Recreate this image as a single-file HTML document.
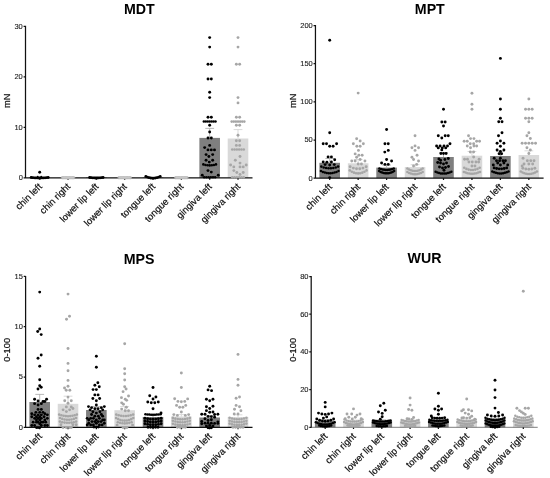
<!DOCTYPE html>
<html lang="en"><head><meta charset="utf-8"><title>MDT MPT MPS WUR</title>
<style>
html,body{margin:0;padding:0;background:#fff;}
body{width:550px;height:478px;overflow:hidden;}
svg{display:block;}
svg text{font-family:"Liberation Sans",Arial,Helvetica,sans-serif;fill:#111;}
.ttl{font-weight:bold;font-size:14.2px;text-anchor:middle;fill:#000;}
.tk{font-size:7.5px;text-anchor:end;fill:#222;stroke:#222;stroke-width:0.12;}
.yl{font-size:9.3px;text-anchor:middle;fill:#111;stroke:#111;stroke-width:0.25;}
.xl{font-size:9.5px;text-anchor:end;fill:#111;stroke:#111;stroke-width:0.2;}
.ax{stroke:#111111;stroke-width:1.25;fill:none;}
.dk{fill:#000000;}.lt{fill:#a6a6a6;}
.bd{fill:#7f7f7f;}.bl{fill:#d9d9d9;}
.ed{stroke:#a6a6a6;stroke-width:0.8;fill:none;}.el{stroke:#cfcfcf;stroke-width:0.8;fill:none;}
</style></head><body>
<svg width="550" height="478" viewBox="0 0 550 478">
<rect x="0" y="0" width="550" height="478" fill="#ffffff"/>
<g>
<text class="ttl" x="139.4" y="13.9">MDT</text>
<text class="yl" transform="translate(10.3 100.7) rotate(-90)">mN</text>
<rect class="bd" x="29.4" y="177.3" width="20.6" height="0.6"/>
<rect class="bl" x="57.73" y="177.5" width="20.6" height="0.4"/>
<rect class="bd" x="86.06" y="177.3" width="20.6" height="0.6"/>
<rect class="bl" x="114.39" y="177.5" width="20.6" height="0.4"/>
<rect class="bd" x="142.72" y="177.3" width="20.6" height="0.6"/>
<rect class="bl" x="171.05" y="177.5" width="20.6" height="0.4"/>
<rect class="bd" x="199.38" y="137.9" width="20.6" height="40"/>
<path class="ed" d="M209.68 137.9V128.4M205.28 128.4H214.08"/>
<rect class="bl" x="227.71" y="138.5" width="20.6" height="39.4"/>
<path class="el" d="M238.01 138.5V129.6M233.61 129.6H242.41"/>
<path class="ax" d="M25.5 25.85V177.9H252.5M25.5 177.9H23.6M25.5 127.45H23.6M25.5 76.9H23.6M25.5 26.35H23.6M39.7 177.9V179.7M68.03 177.9V179.7M96.36 177.9V179.7M124.69 177.9V179.7M153.02 177.9V179.7M181.35 177.9V179.7M209.68 177.9V179.7M238.01 177.9V179.7"/>
<g class="dk">
<circle cx="39.7" cy="172.3" r="1.45"/><circle cx="37.7" cy="176.7" r="0.9"/><circle cx="41.2" cy="176.7" r="0.9"/><circle cx="31.18" cy="177.5" r="1.4"/><circle cx="32.73" cy="177.67" r="1.4"/><circle cx="34.28" cy="177.8" r="1.4"/><circle cx="35.83" cy="177.9" r="1.4"/><circle cx="37.38" cy="177.96" r="1.4"/><circle cx="38.93" cy="178" r="1.4"/><circle cx="40.48" cy="178" r="1.4"/><circle cx="42.03" cy="177.96" r="1.4"/><circle cx="43.58" cy="177.9" r="1.4"/><circle cx="45.12" cy="177.8" r="1.4"/><circle cx="46.68" cy="177.67" r="1.4"/><circle cx="48.23" cy="177.5" r="1.4"/>
</g>
<g class="lt">
<circle cx="62.23" cy="177.8" r="1.5"/><circle cx="63.68" cy="177.8" r="1.5"/><circle cx="65.13" cy="177.8" r="1.5"/><circle cx="66.58" cy="177.8" r="1.5"/><circle cx="68.03" cy="177.8" r="1.5"/><circle cx="69.48" cy="177.8" r="1.5"/><circle cx="70.93" cy="177.8" r="1.5"/><circle cx="72.38" cy="177.8" r="1.5"/><circle cx="73.83" cy="177.8" r="1.5"/>
</g>
<g class="dk">
<circle cx="89.61" cy="177.5" r="1.4"/><circle cx="91.11" cy="177.7" r="1.4"/><circle cx="92.61" cy="177.85" r="1.4"/><circle cx="94.11" cy="177.94" r="1.4"/><circle cx="95.61" cy="177.99" r="1.4"/><circle cx="97.11" cy="177.99" r="1.4"/><circle cx="98.61" cy="177.94" r="1.4"/><circle cx="100.11" cy="177.85" r="1.4"/><circle cx="101.61" cy="177.7" r="1.4"/><circle cx="103.11" cy="177.5" r="1.4"/>
</g>
<g class="lt">
<circle cx="118.89" cy="177.8" r="1.5"/><circle cx="120.34" cy="177.8" r="1.5"/><circle cx="121.79" cy="177.8" r="1.5"/><circle cx="123.24" cy="177.8" r="1.5"/><circle cx="124.69" cy="177.8" r="1.5"/><circle cx="126.14" cy="177.8" r="1.5"/><circle cx="127.59" cy="177.8" r="1.5"/><circle cx="129.04" cy="177.8" r="1.5"/><circle cx="130.49" cy="177.8" r="1.5"/>
</g>
<g class="dk">
<circle cx="145.82" cy="176.4" r="1.4"/><circle cx="147.42" cy="177.11" r="1.4"/><circle cx="149.02" cy="177.64" r="1.4"/><circle cx="150.62" cy="178" r="1.4"/><circle cx="152.22" cy="178.18" r="1.4"/><circle cx="153.82" cy="178.18" r="1.4"/><circle cx="155.42" cy="178" r="1.4"/><circle cx="157.02" cy="177.64" r="1.4"/><circle cx="158.62" cy="177.11" r="1.4"/><circle cx="160.22" cy="176.4" r="1.4"/>
</g>
<g class="lt">
<circle cx="175.55" cy="177.8" r="1.5"/><circle cx="177" cy="177.8" r="1.5"/><circle cx="178.45" cy="177.8" r="1.5"/><circle cx="179.9" cy="177.8" r="1.5"/><circle cx="181.35" cy="177.8" r="1.5"/><circle cx="182.8" cy="177.8" r="1.5"/><circle cx="184.25" cy="177.8" r="1.5"/><circle cx="185.7" cy="177.8" r="1.5"/><circle cx="187.15" cy="177.8" r="1.5"/>
</g>
<g class="dk">
<circle cx="209.68" cy="37.6" r="1.45"/><circle cx="209.68" cy="47.1" r="1.45"/><circle cx="208.03" cy="64.2" r="1.45"/><circle cx="211.33" cy="64.2" r="1.45"/><circle cx="208.03" cy="79" r="1.45"/><circle cx="211.33" cy="79" r="1.45"/><circle cx="209.68" cy="92.3" r="1.45"/><circle cx="209.68" cy="97.6" r="1.45"/><circle cx="208.03" cy="117.3" r="1.45"/><circle cx="211.33" cy="117.3" r="1.45"/><circle cx="203.83" cy="121.6" r="1.25"/><circle cx="205.78" cy="121.6" r="1.25"/><circle cx="207.73" cy="121.6" r="1.25"/><circle cx="209.68" cy="121.6" r="1.25"/><circle cx="211.63" cy="121.6" r="1.25"/><circle cx="213.58" cy="121.6" r="1.25"/><circle cx="215.53" cy="121.6" r="1.25"/><circle cx="209.68" cy="125.2" r="1.45"/><circle cx="209.68" cy="132" r="1.45"/><circle cx="208.03" cy="138" r="1.45"/><circle cx="211.33" cy="138" r="1.45"/><circle cx="209.68" cy="145.4" r="1.45"/><circle cx="204.68" cy="147.6" r="1.45"/><circle cx="206.08" cy="154.6" r="1.45"/><circle cx="212.68" cy="154.6" r="1.45"/><circle cx="208.88" cy="156.5" r="1.45"/><circle cx="206.08" cy="160.3" r="1.45"/><circle cx="212.68" cy="160.3" r="1.45"/><circle cx="209.28" cy="162.1" r="1.45"/><circle cx="203.38" cy="164.4" r="1.3"/><circle cx="205.48" cy="164.96" r="1.3"/><circle cx="207.58" cy="165.29" r="1.3"/><circle cx="209.68" cy="165.4" r="1.3"/><circle cx="211.78" cy="165.29" r="1.3"/><circle cx="213.88" cy="164.96" r="1.3"/><circle cx="215.98" cy="164.4" r="1.3"/><circle cx="207.98" cy="170.6" r="1.45"/><circle cx="211.28" cy="172.1" r="1.45"/><circle cx="202.28" cy="175.3" r="1.45"/><circle cx="218.28" cy="175.3" r="1.45"/><circle cx="204.18" cy="177.2" r="1.3"/><circle cx="206.38" cy="177.2" r="1.3"/><circle cx="208.58" cy="177.2" r="1.3"/><circle cx="210.78" cy="177.2" r="1.3"/><circle cx="212.98" cy="177.2" r="1.3"/><circle cx="215.18" cy="177.2" r="1.3"/><circle cx="207.98" cy="149.9" r="1.45"/><circle cx="211.28" cy="149.9" r="1.45"/><circle cx="214.48" cy="149.9" r="1.45"/>
</g>
<g class="lt">
<circle cx="238.01" cy="37.6" r="1.45"/><circle cx="238.01" cy="47.1" r="1.45"/><circle cx="236.36" cy="64.2" r="1.45"/><circle cx="239.66" cy="64.2" r="1.45"/><circle cx="238.01" cy="97.6" r="1.45"/><circle cx="238.01" cy="102.9" r="1.45"/><circle cx="236.36" cy="117.3" r="1.45"/><circle cx="239.66" cy="117.3" r="1.45"/><circle cx="231.71" cy="121.6" r="1.3"/><circle cx="233.81" cy="121.6" r="1.3"/><circle cx="235.91" cy="121.6" r="1.3"/><circle cx="238.01" cy="121.6" r="1.3"/><circle cx="240.11" cy="121.6" r="1.3"/><circle cx="242.21" cy="121.6" r="1.3"/><circle cx="244.31" cy="121.6" r="1.3"/><circle cx="236.36" cy="125.2" r="1.45"/><circle cx="239.66" cy="125.2" r="1.45"/><circle cx="238.01" cy="135.3" r="1.45"/><circle cx="236.36" cy="140.7" r="1.45"/><circle cx="239.66" cy="140.7" r="1.45"/><circle cx="236.36" cy="145.4" r="1.45"/><circle cx="239.66" cy="145.4" r="1.45"/><circle cx="232.26" cy="149.5" r="1.3"/><circle cx="234.56" cy="149.5" r="1.3"/><circle cx="236.86" cy="149.5" r="1.3"/><circle cx="239.16" cy="149.5" r="1.3"/><circle cx="241.46" cy="149.5" r="1.3"/><circle cx="243.76" cy="149.5" r="1.3"/><circle cx="240.01" cy="156.5" r="1.45"/><circle cx="235.31" cy="160.3" r="1.45"/><circle cx="240.01" cy="163.1" r="1.45"/><circle cx="230.61" cy="165" r="1.45"/><circle cx="246.21" cy="165" r="1.45"/><circle cx="233.81" cy="166.9" r="1.45"/><circle cx="240.01" cy="166.9" r="1.45"/><circle cx="243.21" cy="166.9" r="1.45"/><circle cx="233.81" cy="170.6" r="1.45"/><circle cx="236.81" cy="172.5" r="1.45"/><circle cx="243.21" cy="172.5" r="1.45"/><circle cx="240.01" cy="174.4" r="1.45"/><circle cx="232.26" cy="177.2" r="1.3"/><circle cx="234.56" cy="177.2" r="1.3"/><circle cx="236.86" cy="177.2" r="1.3"/><circle cx="239.16" cy="177.2" r="1.3"/><circle cx="241.46" cy="177.2" r="1.3"/><circle cx="243.76" cy="177.2" r="1.3"/>
</g>
<rect x="61.83" y="177.2" width="12.4" height="1.2" rx="0.6" fill="#d2d2d2"/>
<rect x="118.49" y="177.2" width="12.4" height="1.2" rx="0.6" fill="#d2d2d2"/>
<rect x="175.15" y="177.2" width="12.4" height="1.2" rx="0.6" fill="#d2d2d2"/>
<text class="tk" x="22.8" y="180.35">0</text>
<text class="tk" x="22.8" y="129.9">10</text>
<text class="tk" x="22.8" y="79.35">20</text>
<text class="tk" x="22.8" y="28.8">30</text>
<text class="xl" transform="translate(42.5 187.2) rotate(-45)">chin left</text>
<text class="xl" transform="translate(70.83 187.2) rotate(-45)">chin right</text>
<text class="xl" transform="translate(99.16 187.2) rotate(-45)">lower lip left</text>
<text class="xl" transform="translate(127.49 187.2) rotate(-45)">lower lip right</text>
<text class="xl" transform="translate(155.82 187.2) rotate(-45)">tongue left</text>
<text class="xl" transform="translate(184.15 187.2) rotate(-45)">tongue right</text>
<text class="xl" transform="translate(212.48 187.2) rotate(-45)">gingiva left</text>
<text class="xl" transform="translate(240.81 187.2) rotate(-45)">gingiva right</text>
</g>
<g>
<text class="ttl" x="429.8" y="13.9">MPT</text>
<text class="yl" transform="translate(296.3 100.7) rotate(-90)">mN</text>
<rect class="bd" x="319.4" y="162.8" width="20.6" height="15.4"/>
<path class="ed" d="M329.7 162.8V158.5M325.3 158.5H334.1"/>
<rect class="bl" x="347.85" y="163.3" width="20.6" height="14.9"/>
<path class="el" d="M358.15 163.3V159.5M353.75 159.5H362.55"/>
<rect class="bd" x="376.3" y="167.6" width="20.6" height="10.6"/>
<path class="ed" d="M386.6 167.6V165M382.2 165H391"/>
<rect class="bl" x="404.75" y="167.1" width="20.6" height="11.1"/>
<path class="el" d="M415.05 167.1V164.7M410.65 164.7H419.45"/>
<rect class="bd" x="433.2" y="157" width="20.6" height="21.2"/>
<path class="ed" d="M443.5 157V152.6M439.1 152.6H447.9"/>
<rect class="bl" x="461.65" y="155.7" width="20.6" height="22.5"/>
<path class="el" d="M471.95 155.7V151.5M467.55 151.5H476.35"/>
<rect class="bd" x="490.1" y="156" width="20.6" height="22.2"/>
<path class="ed" d="M500.4 156V151.2M496 151.2H504.8"/>
<rect class="bl" x="518.55" y="155" width="20.6" height="23.2"/>
<path class="el" d="M528.85 155V150.8M524.45 150.8H533.25"/>
<path class="ax" d="M315.45 25V178.2H543.6M315.45 178.2H313.55M315.45 140H313.55M315.45 101.8H313.55M315.45 63.7H313.55M315.45 25.5H313.55M329.7 178.2V180M358.15 178.2V180M386.6 178.2V180M415.05 178.2V180M443.5 178.2V180M471.95 178.2V180M500.4 178.2V180M528.85 178.2V180"/>
<g class="dk">
<circle cx="329.7" cy="40.2" r="1.45"/><circle cx="329.7" cy="132.7" r="1.45"/><circle cx="323.2" cy="143.7" r="1.45"/><circle cx="326.5" cy="143.7" r="1.45"/><circle cx="336.6" cy="143.7" r="1.45"/><circle cx="329.7" cy="146.3" r="1.45"/><circle cx="333.1" cy="146.3" r="1.45"/><circle cx="328.1" cy="156.9" r="1.45"/><circle cx="331.4" cy="156.9" r="1.45"/><circle cx="334.7" cy="159.8" r="1.45"/><circle cx="323.2" cy="162" r="1.45"/><circle cx="326.9" cy="162.3" r="1.45"/><circle cx="331.4" cy="162" r="1.45"/><circle cx="325.1" cy="164.6" r="1.45"/><circle cx="329.7" cy="165" r="1.45"/><circle cx="334.3" cy="164.6" r="1.45"/><circle cx="321.3" cy="166.6" r="1.3"/><circle cx="323.7" cy="167.43" r="1.3"/><circle cx="326.1" cy="167.99" r="1.3"/><circle cx="328.5" cy="168.27" r="1.3"/><circle cx="330.9" cy="168.27" r="1.3"/><circle cx="333.3" cy="167.99" r="1.3"/><circle cx="335.7" cy="167.43" r="1.3"/><circle cx="338.1" cy="166.6" r="1.3"/><circle cx="320.93" cy="171.1" r="1.25"/><circle cx="322.88" cy="171.97" r="1.25"/><circle cx="324.82" cy="172.62" r="1.25"/><circle cx="326.77" cy="173.06" r="1.25"/><circle cx="328.72" cy="173.27" r="1.25"/><circle cx="330.68" cy="173.27" r="1.25"/><circle cx="332.62" cy="173.06" r="1.25"/><circle cx="334.57" cy="172.62" r="1.25"/><circle cx="336.52" cy="171.97" r="1.25"/><circle cx="338.47" cy="171.1" r="1.25"/><circle cx="329.7" cy="177.6" r="1.45"/>
</g>
<g class="lt">
<circle cx="358.15" cy="93.1" r="1.45"/><circle cx="356.65" cy="138.8" r="1.45"/><circle cx="360.15" cy="141" r="1.45"/><circle cx="353.35" cy="143.7" r="1.45"/><circle cx="363.35" cy="143.7" r="1.45"/><circle cx="356.85" cy="146.3" r="1.45"/><circle cx="360.15" cy="146.3" r="1.45"/><circle cx="358.45" cy="150.4" r="1.45"/><circle cx="355.15" cy="153.9" r="1.45"/><circle cx="358.85" cy="155.2" r="1.45"/><circle cx="362.15" cy="155.2" r="1.45"/><circle cx="356.65" cy="157.2" r="1.45"/><circle cx="360.15" cy="159.5" r="1.45"/><circle cx="351.75" cy="161" r="1.45"/><circle cx="355.15" cy="161" r="1.45"/><circle cx="364.95" cy="161" r="1.45"/><circle cx="358.15" cy="164" r="1.45"/><circle cx="361.45" cy="164" r="1.45"/><circle cx="350.15" cy="166.8" r="1.45"/><circle cx="353.35" cy="168.08" r="1.45"/><circle cx="356.55" cy="168.72" r="1.45"/><circle cx="359.75" cy="168.72" r="1.45"/><circle cx="362.95" cy="168.08" r="1.45"/><circle cx="366.15" cy="166.8" r="1.45"/><circle cx="349.75" cy="170.4" r="1.3"/><circle cx="351.85" cy="171.71" r="1.3"/><circle cx="353.95" cy="172.65" r="1.3"/><circle cx="356.05" cy="173.21" r="1.3"/><circle cx="358.15" cy="173.4" r="1.3"/><circle cx="360.25" cy="173.21" r="1.3"/><circle cx="362.35" cy="172.65" r="1.3"/><circle cx="364.45" cy="171.71" r="1.3"/><circle cx="366.55" cy="170.4" r="1.3"/>
</g>
<g class="dk">
<circle cx="386.6" cy="129.5" r="1.45"/><circle cx="384.95" cy="143.7" r="1.45"/><circle cx="388.25" cy="143.7" r="1.45"/><circle cx="388.3" cy="150.4" r="1.45"/><circle cx="384.8" cy="152.1" r="1.45"/><circle cx="386.6" cy="159.5" r="1.45"/><circle cx="391.6" cy="161" r="1.45"/><circle cx="381.6" cy="163" r="1.45"/><circle cx="384.95" cy="164.4" r="1.45"/><circle cx="388.25" cy="164.4" r="1.45"/><circle cx="379.4" cy="168.5" r="1.25"/><circle cx="381" cy="169.09" r="1.25"/><circle cx="382.6" cy="169.54" r="1.25"/><circle cx="384.2" cy="169.83" r="1.25"/><circle cx="385.8" cy="169.98" r="1.25"/><circle cx="387.4" cy="169.98" r="1.25"/><circle cx="389" cy="169.83" r="1.25"/><circle cx="390.6" cy="169.54" r="1.25"/><circle cx="392.2" cy="169.09" r="1.25"/><circle cx="393.8" cy="168.5" r="1.25"/><circle cx="379.1" cy="171.1" r="1.25"/><circle cx="380.6" cy="171.89" r="1.25"/><circle cx="382.1" cy="172.51" r="1.25"/><circle cx="383.6" cy="172.95" r="1.25"/><circle cx="385.1" cy="173.21" r="1.25"/><circle cx="386.6" cy="173.3" r="1.25"/><circle cx="388.1" cy="173.21" r="1.25"/><circle cx="389.6" cy="172.95" r="1.25"/><circle cx="391.1" cy="172.51" r="1.25"/><circle cx="392.6" cy="171.89" r="1.25"/><circle cx="394.1" cy="171.1" r="1.25"/>
</g>
<g class="lt">
<circle cx="415.05" cy="135.8" r="1.45"/><circle cx="415.05" cy="145.9" r="1.45"/><circle cx="411.95" cy="147.8" r="1.45"/><circle cx="418.55" cy="147.8" r="1.45"/><circle cx="415.05" cy="150.4" r="1.45"/><circle cx="417.05" cy="155.2" r="1.45"/><circle cx="411.95" cy="157.2" r="1.45"/><circle cx="413.55" cy="159.5" r="1.45"/><circle cx="418.55" cy="161" r="1.45"/><circle cx="416.65" cy="164.4" r="1.45"/><circle cx="413.55" cy="166" r="1.45"/><circle cx="407.4" cy="168.6" r="1.25"/><circle cx="409.1" cy="169.55" r="1.25"/><circle cx="410.8" cy="170.26" r="1.25"/><circle cx="412.5" cy="170.73" r="1.25"/><circle cx="414.2" cy="170.97" r="1.25"/><circle cx="415.9" cy="170.97" r="1.25"/><circle cx="417.6" cy="170.73" r="1.25"/><circle cx="419.3" cy="170.26" r="1.25"/><circle cx="421" cy="169.55" r="1.25"/><circle cx="422.7" cy="168.6" r="1.25"/><circle cx="407.4" cy="172.1" r="1.25"/><circle cx="409.1" cy="172.97" r="1.25"/><circle cx="410.8" cy="173.62" r="1.25"/><circle cx="412.5" cy="174.06" r="1.25"/><circle cx="414.2" cy="174.27" r="1.25"/><circle cx="415.9" cy="174.27" r="1.25"/><circle cx="417.6" cy="174.06" r="1.25"/><circle cx="419.3" cy="173.62" r="1.25"/><circle cx="421" cy="172.97" r="1.25"/><circle cx="422.7" cy="172.1" r="1.25"/>
</g>
<g class="dk">
<circle cx="443.5" cy="109.2" r="1.45"/><circle cx="441.85" cy="122" r="1.45"/><circle cx="445.15" cy="122" r="1.45"/><circle cx="443.5" cy="126" r="1.45"/><circle cx="438.3" cy="135.7" r="1.45"/><circle cx="445.2" cy="135.7" r="1.45"/><circle cx="448.3" cy="135.7" r="1.45"/><circle cx="441.8" cy="138" r="1.45"/><circle cx="450" cy="143.7" r="1.45"/><circle cx="436.6" cy="146" r="1.45"/><circle cx="440.1" cy="146" r="1.45"/><circle cx="444" cy="146" r="1.45"/><circle cx="447.5" cy="146" r="1.45"/><circle cx="438.3" cy="147.9" r="1.45"/><circle cx="442.3" cy="147.9" r="1.45"/><circle cx="445.7" cy="147.9" r="1.45"/><circle cx="441.8" cy="149.9" r="1.45"/><circle cx="440.9" cy="153.5" r="1.45"/><circle cx="443.5" cy="153.5" r="1.45"/><circle cx="446.1" cy="153.5" r="1.45"/><circle cx="438.9" cy="159" r="1.45"/><circle cx="440.6" cy="160.2" r="1.45"/><circle cx="444.9" cy="159.5" r="1.45"/><circle cx="448.3" cy="158.5" r="1.45"/><circle cx="440.5" cy="163" r="1.45"/><circle cx="443.5" cy="164" r="1.45"/><circle cx="446.5" cy="163" r="1.45"/><circle cx="437.7" cy="162.5" r="1.45"/><circle cx="439.5" cy="167" r="1.45"/><circle cx="442.5" cy="168" r="1.45"/><circle cx="445.5" cy="167.5" r="1.45"/><circle cx="448.5" cy="166.5" r="1.45"/><circle cx="444" cy="170.3" r="1.45"/><circle cx="435.62" cy="171.8" r="1.25"/><circle cx="437.38" cy="172.51" r="1.25"/><circle cx="439.12" cy="173.04" r="1.25"/><circle cx="440.88" cy="173.4" r="1.25"/><circle cx="442.62" cy="173.58" r="1.25"/><circle cx="444.38" cy="173.58" r="1.25"/><circle cx="446.12" cy="173.4" r="1.25"/><circle cx="447.88" cy="173.04" r="1.25"/><circle cx="449.62" cy="172.51" r="1.25"/><circle cx="451.38" cy="171.8" r="1.25"/>
</g>
<g class="lt">
<circle cx="471.95" cy="93.2" r="1.45"/><circle cx="471.95" cy="104.2" r="1.45"/><circle cx="471.95" cy="109.2" r="1.45"/><circle cx="468.55" cy="135.7" r="1.45"/><circle cx="470.55" cy="138.6" r="1.45"/><circle cx="473.95" cy="138.6" r="1.45"/><circle cx="464.15" cy="141.2" r="1.45"/><circle cx="467.25" cy="141.2" r="1.45"/><circle cx="476.65" cy="141.2" r="1.45"/><circle cx="479.55" cy="141.2" r="1.45"/><circle cx="470.25" cy="143.7" r="1.45"/><circle cx="473.65" cy="143.7" r="1.45"/><circle cx="467.25" cy="146" r="1.45"/><circle cx="473.95" cy="146" r="1.45"/><circle cx="476.65" cy="146" r="1.45"/><circle cx="470.55" cy="147.7" r="1.45"/><circle cx="470.3" cy="152" r="1.45"/><circle cx="473.6" cy="152" r="1.45"/><circle cx="473.65" cy="157" r="1.45"/><circle cx="464.55" cy="159.2" r="1.45"/><circle cx="467.45" cy="159.2" r="1.45"/><circle cx="479.15" cy="159.2" r="1.45"/><circle cx="468.95" cy="162" r="1.45"/><circle cx="472.25" cy="162" r="1.45"/><circle cx="475.95" cy="162" r="1.45"/><circle cx="478.65" cy="162" r="1.45"/><circle cx="471.95" cy="166" r="1.45"/><circle cx="474.95" cy="166" r="1.45"/><circle cx="464.25" cy="167.8" r="1.3"/><circle cx="466.45" cy="168.88" r="1.3"/><circle cx="468.65" cy="169.6" r="1.3"/><circle cx="470.85" cy="169.96" r="1.3"/><circle cx="473.05" cy="169.96" r="1.3"/><circle cx="475.25" cy="169.6" r="1.3"/><circle cx="477.45" cy="168.88" r="1.3"/><circle cx="479.65" cy="167.8" r="1.3"/><circle cx="463.85" cy="171.9" r="1.25"/><circle cx="465.65" cy="172.61" r="1.25"/><circle cx="467.45" cy="173.14" r="1.25"/><circle cx="469.25" cy="173.5" r="1.25"/><circle cx="471.05" cy="173.68" r="1.25"/><circle cx="472.85" cy="173.68" r="1.25"/><circle cx="474.65" cy="173.5" r="1.25"/><circle cx="476.45" cy="173.14" r="1.25"/><circle cx="478.25" cy="172.61" r="1.25"/><circle cx="480.05" cy="171.9" r="1.25"/>
</g>
<g class="dk">
<circle cx="500.4" cy="58.4" r="1.45"/><circle cx="500.4" cy="99" r="1.45"/><circle cx="500.4" cy="109.2" r="1.45"/><circle cx="500.4" cy="118.3" r="1.45"/><circle cx="498.75" cy="121.7" r="1.45"/><circle cx="502.05" cy="121.7" r="1.45"/><circle cx="502" cy="132.7" r="1.45"/><circle cx="498.5" cy="135.8" r="1.45"/><circle cx="500.4" cy="141" r="1.45"/><circle cx="497.1" cy="143.3" r="1.45"/><circle cx="503.9" cy="143.3" r="1.45"/><circle cx="500.4" cy="146.3" r="1.45"/><circle cx="497.1" cy="150" r="1.45"/><circle cx="503.9" cy="150" r="1.45"/><circle cx="500.4" cy="151.5" r="1.45"/><circle cx="499.1" cy="153.7" r="1.45"/><circle cx="501.6" cy="153.7" r="1.45"/><circle cx="494.2" cy="158.3" r="1.45"/><circle cx="500.4" cy="158.3" r="1.45"/><circle cx="496.5" cy="160.8" r="1.45"/><circle cx="499.6" cy="160.8" r="1.45"/><circle cx="502.9" cy="160.8" r="1.45"/><circle cx="505.4" cy="160.8" r="1.45"/><circle cx="497.7" cy="163" r="1.45"/><circle cx="503.9" cy="163" r="1.45"/><circle cx="493.3" cy="165" r="1.45"/><circle cx="500.4" cy="165" r="1.45"/><circle cx="507.7" cy="165" r="1.45"/><circle cx="494.15" cy="167.9" r="1.45"/><circle cx="496.65" cy="168.54" r="1.45"/><circle cx="499.15" cy="168.86" r="1.45"/><circle cx="501.65" cy="168.86" r="1.45"/><circle cx="504.15" cy="168.54" r="1.45"/><circle cx="506.65" cy="167.9" r="1.45"/><circle cx="492.3" cy="171.4" r="1.25"/><circle cx="494.1" cy="172.19" r="1.25"/><circle cx="495.9" cy="172.78" r="1.25"/><circle cx="497.7" cy="173.18" r="1.25"/><circle cx="499.5" cy="173.38" r="1.25"/><circle cx="501.3" cy="173.38" r="1.25"/><circle cx="503.1" cy="173.18" r="1.25"/><circle cx="504.9" cy="172.78" r="1.25"/><circle cx="506.7" cy="172.19" r="1.25"/><circle cx="508.5" cy="171.4" r="1.25"/>
</g>
<g class="lt">
<circle cx="528.85" cy="99" r="1.45"/><circle cx="525.55" cy="109.2" r="1.45"/><circle cx="528.85" cy="109.2" r="1.45"/><circle cx="532.15" cy="109.2" r="1.45"/><circle cx="525.55" cy="118.3" r="1.45"/><circle cx="528.85" cy="118.3" r="1.45"/><circle cx="532.15" cy="118.3" r="1.45"/><circle cx="528.85" cy="121.7" r="1.45"/><circle cx="528.85" cy="132.7" r="1.45"/><circle cx="526.95" cy="135.8" r="1.45"/><circle cx="530.35" cy="138.5" r="1.45"/><circle cx="522.15" cy="143.3" r="1.45"/><circle cx="525.5" cy="143.3" r="1.45"/><circle cx="528.85" cy="143.3" r="1.45"/><circle cx="532.2" cy="143.3" r="1.45"/><circle cx="535.55" cy="143.3" r="1.45"/><circle cx="526.95" cy="147.7" r="1.45"/><circle cx="530.35" cy="150" r="1.45"/><circle cx="528.85" cy="153.5" r="1.45"/><circle cx="523.05" cy="158.3" r="1.45"/><circle cx="527.35" cy="160.8" r="1.45"/><circle cx="530.75" cy="160.8" r="1.45"/><circle cx="534.05" cy="160.8" r="1.45"/><circle cx="524.05" cy="164" r="1.45"/><circle cx="528.85" cy="164" r="1.45"/><circle cx="532.65" cy="164" r="1.45"/><circle cx="522.15" cy="166" r="1.45"/><circle cx="522.85" cy="168.2" r="1.45"/><circle cx="525.85" cy="168.95" r="1.45"/><circle cx="528.85" cy="169.2" r="1.45"/><circle cx="531.85" cy="168.95" r="1.45"/><circle cx="534.85" cy="168.2" r="1.45"/><circle cx="520.75" cy="171.4" r="1.25"/><circle cx="522.55" cy="172.43" r="1.25"/><circle cx="524.35" cy="173.2" r="1.25"/><circle cx="526.15" cy="173.71" r="1.25"/><circle cx="527.95" cy="173.97" r="1.25"/><circle cx="529.75" cy="173.97" r="1.25"/><circle cx="531.55" cy="173.71" r="1.25"/><circle cx="533.35" cy="173.2" r="1.25"/><circle cx="535.15" cy="172.43" r="1.25"/><circle cx="536.95" cy="171.4" r="1.25"/>
</g>
<text class="tk" x="312.75" y="180.65">0</text>
<text class="tk" x="312.75" y="142.45">50</text>
<text class="tk" x="312.75" y="104.25">100</text>
<text class="tk" x="312.75" y="66.15">150</text>
<text class="tk" x="312.75" y="27.95">200</text>
<text class="xl" transform="translate(332.5 187.5) rotate(-45)">chin left</text>
<text class="xl" transform="translate(360.95 187.5) rotate(-45)">chin right</text>
<text class="xl" transform="translate(389.4 187.5) rotate(-45)">lower lip left</text>
<text class="xl" transform="translate(417.85 187.5) rotate(-45)">lower lip right</text>
<text class="xl" transform="translate(446.3 187.5) rotate(-45)">tongue left</text>
<text class="xl" transform="translate(474.75 187.5) rotate(-45)">tongue right</text>
<text class="xl" transform="translate(503.2 187.5) rotate(-45)">gingiva left</text>
<text class="xl" transform="translate(531.65 187.5) rotate(-45)">gingiva right</text>
</g>
<g>
<text class="ttl" x="139" y="263.5">MPS</text>
<text class="yl" transform="translate(10.4 349.8) rotate(-90)">0-100</text>
<rect class="bd" x="29.4" y="402" width="20.6" height="25.4"/>
<path class="ed" d="M39.7 402V394.4M35.3 394.4H44.1"/>
<rect class="bl" x="57.73" y="403.8" width="20.6" height="23.6"/>
<path class="el" d="M68.03 403.8V396.2M63.63 396.2H72.43"/>
<rect class="bd" x="86.06" y="410" width="20.6" height="17.4"/>
<path class="ed" d="M96.36 410V406.6M91.96 406.6H100.76"/>
<rect class="bl" x="114.39" y="410.2" width="20.6" height="17.2"/>
<path class="el" d="M124.69 410.2V406.6M120.29 406.6H129.09"/>
<rect class="bd" x="142.72" y="417" width="20.6" height="10.4"/>
<path class="ed" d="M153.02 417V415.2M148.62 415.2H157.42"/>
<rect class="bl" x="171.05" y="416.5" width="20.6" height="10.9"/>
<path class="el" d="M181.35 416.5V414.6M176.95 414.6H185.75"/>
<rect class="bd" x="199.38" y="417.5" width="20.6" height="9.9"/>
<path class="ed" d="M209.68 417.5V415.6M205.28 415.6H214.08"/>
<rect class="bl" x="227.71" y="417" width="20.6" height="10.4"/>
<path class="el" d="M238.01 417V414.8M233.61 414.8H242.41"/>
<path class="ax" d="M25.6 275.9V427.4H252.5M25.6 427.4H23.7M25.6 377H23.7M25.6 326.7H23.7M25.6 276.4H23.7M39.7 427.4V429.2M68.03 427.4V429.2M96.36 427.4V429.2M124.69 427.4V429.2M153.02 427.4V429.2M181.35 427.4V429.2M209.68 427.4V429.2M238.01 427.4V429.2"/>
<g class="dk">
<circle cx="39.7" cy="292.1" r="1.45"/><circle cx="39.7" cy="329" r="1.45"/><circle cx="37.7" cy="331.5" r="1.45"/><circle cx="41.2" cy="334.6" r="1.45"/><circle cx="41.2" cy="355" r="1.45"/><circle cx="38" cy="358.3" r="1.45"/><circle cx="39.7" cy="366.3" r="1.45"/><circle cx="39.7" cy="379.8" r="1.45"/><circle cx="39.7" cy="385.8" r="1.45"/><circle cx="41.2" cy="387.3" r="1.45"/><circle cx="38" cy="389" r="1.45"/><circle cx="34.6" cy="399.27" r="1.45"/><circle cx="46.59" cy="399.27" r="1.45"/><circle cx="38.09" cy="400.91" r="1.45"/><circle cx="42.99" cy="401.45" r="1.45"/><circle cx="44.85" cy="401.45" r="1.45"/><circle cx="34.6" cy="403.63" r="1.45"/><circle cx="41.36" cy="403.63" r="1.45"/><circle cx="38.09" cy="405.05" r="1.45"/><circle cx="38.09" cy="409.41" r="1.45"/><circle cx="41.36" cy="409.41" r="1.45"/><circle cx="35.91" cy="412.36" r="1.45"/><circle cx="39.72" cy="412.36" r="1.45"/><circle cx="42.99" cy="412.36" r="1.45"/><circle cx="31.76" cy="413.77" r="1.45"/><circle cx="44.85" cy="413.77" r="1.45"/><circle cx="34.6" cy="414.86" r="1.45"/><circle cx="38.09" cy="414.86" r="1.45"/><circle cx="41.36" cy="414.86" r="1.45"/><circle cx="47.36" cy="414.86" r="1.45"/><circle cx="31.76" cy="416.72" r="1.45"/><circle cx="36.45" cy="416.72" r="1.45"/><circle cx="39.72" cy="416.72" r="1.45"/><circle cx="44.08" cy="416.72" r="1.45"/><circle cx="34.6" cy="418.35" r="1.45"/><circle cx="38.09" cy="418.35" r="1.45"/><circle cx="41.36" cy="418.35" r="1.45"/><circle cx="47.36" cy="418.35" r="1.45"/><circle cx="36.45" cy="419.99" r="1.45"/><circle cx="39.72" cy="419.99" r="1.45"/><circle cx="44.85" cy="419.99" r="1.45"/><circle cx="33.18" cy="422.17" r="1.45"/><circle cx="36.45" cy="422.17" r="1.45"/><circle cx="38.09" cy="422.17" r="1.45"/><circle cx="41.36" cy="422.17" r="1.45"/><circle cx="42.99" cy="422.17" r="1.45"/><circle cx="45.72" cy="422.17" r="1.45"/><circle cx="39.72" cy="423.81" r="1.45"/><circle cx="31.76" cy="425.44" r="1.45"/><circle cx="34.6" cy="425.44" r="1.45"/><circle cx="41.36" cy="425.44" r="1.45"/><circle cx="44.85" cy="425.44" r="1.45"/><circle cx="47.36" cy="425.44" r="1.45"/><circle cx="36.45" cy="427.62" r="1.45"/><circle cx="38.09" cy="427.62" r="1.45"/><circle cx="39.72" cy="427.62" r="1.45"/>
</g>
<g class="lt">
<circle cx="68.03" cy="294.1" r="1.45"/><circle cx="69.53" cy="316.2" r="1.45"/><circle cx="66.53" cy="319.3" r="1.45"/><circle cx="68.03" cy="348.5" r="1.45"/><circle cx="68.03" cy="363.4" r="1.45"/><circle cx="68.03" cy="370.8" r="1.45"/><circle cx="68.03" cy="380.4" r="1.45"/><circle cx="68.03" cy="386.2" r="1.45"/><circle cx="64.53" cy="388" r="1.45"/><circle cx="66.23" cy="390.3" r="1.45"/><circle cx="69.83" cy="390.3" r="1.45"/><circle cx="68.01" cy="397.09" r="1.45"/><circle cx="64.73" cy="400.69" r="1.45"/><circle cx="71.28" cy="400.69" r="1.45"/><circle cx="68.01" cy="403.3" r="1.45"/><circle cx="66.37" cy="406.9" r="1.45"/><circle cx="71.28" cy="406.9" r="1.45"/><circle cx="72.91" cy="408.54" r="1.45"/><circle cx="63.1" cy="409.85" r="1.45"/><circle cx="69.64" cy="409.85" r="1.45"/><circle cx="66.37" cy="411.59" r="1.45"/><circle cx="63.1" cy="427.62" r="1.45"/><circle cx="66.37" cy="427.62" r="1.45"/><circle cx="69.64" cy="427.62" r="1.45"/><circle cx="71.28" cy="427.62" r="1.45"/><circle cx="72.91" cy="424.68" r="1.45"/><circle cx="76.18" cy="424.68" r="1.45"/><circle cx="60.92" cy="424.68" r="1.45"/><circle cx="59.23" cy="414.6" r="1.3"/><circle cx="61.43" cy="415.3" r="1.3"/><circle cx="63.63" cy="415.8" r="1.3"/><circle cx="65.83" cy="416.1" r="1.3"/><circle cx="68.03" cy="416.2" r="1.3"/><circle cx="70.23" cy="416.1" r="1.3"/><circle cx="72.43" cy="415.8" r="1.3"/><circle cx="74.63" cy="415.3" r="1.3"/><circle cx="76.83" cy="414.6" r="1.3"/><circle cx="59.98" cy="418" r="1.3"/><circle cx="62.28" cy="418.88" r="1.3"/><circle cx="64.58" cy="419.47" r="1.3"/><circle cx="66.88" cy="419.76" r="1.3"/><circle cx="69.18" cy="419.76" r="1.3"/><circle cx="71.48" cy="419.47" r="1.3"/><circle cx="73.78" cy="418.88" r="1.3"/><circle cx="76.08" cy="418" r="1.3"/><circle cx="59.98" cy="421.6" r="1.3"/><circle cx="62.28" cy="422.19" r="1.3"/><circle cx="64.58" cy="422.58" r="1.3"/><circle cx="66.88" cy="422.78" r="1.3"/><circle cx="69.18" cy="422.78" r="1.3"/><circle cx="71.48" cy="422.58" r="1.3"/><circle cx="73.78" cy="422.19" r="1.3"/><circle cx="76.08" cy="421.6" r="1.3"/>
</g>
<g class="dk">
<circle cx="96.36" cy="356.3" r="1.45"/><circle cx="96.36" cy="367.3" r="1.45"/><circle cx="97.86" cy="382.7" r="1.45"/><circle cx="94.86" cy="385.2" r="1.45"/><circle cx="99.26" cy="386.7" r="1.45"/><circle cx="93.06" cy="389.6" r="1.45"/><circle cx="96.36" cy="389.6" r="1.45"/><circle cx="94.83" cy="394.91" r="1.45"/><circle cx="98.1" cy="394.91" r="1.45"/><circle cx="92.87" cy="398.51" r="1.45"/><circle cx="99.63" cy="398.51" r="1.45"/><circle cx="96.35" cy="400.69" r="1.45"/><circle cx="96.35" cy="405.05" r="1.45"/><circle cx="88.5" cy="406.58" r="1.45"/><circle cx="104.32" cy="406.58" r="1.45"/><circle cx="91.56" cy="407.67" r="1.45"/><circle cx="101.37" cy="407.67" r="1.45"/><circle cx="94.83" cy="408.76" r="1.45"/><circle cx="98.1" cy="408.76" r="1.45"/><circle cx="90.14" cy="409.85" r="1.45"/><circle cx="102.68" cy="409.85" r="1.45"/><circle cx="92.87" cy="411.81" r="1.45"/><circle cx="99.95" cy="411.81" r="1.45"/><circle cx="96.35" cy="413.12" r="1.45"/><circle cx="91.56" cy="414.54" r="1.45"/><circle cx="101.37" cy="414.54" r="1.45"/><circle cx="94.83" cy="416.17" r="1.45"/><circle cx="98.32" cy="416.17" r="1.45"/><circle cx="102.68" cy="416.17" r="1.45"/><circle cx="87.19" cy="418.35" r="1.45"/><circle cx="90.68" cy="418.35" r="1.45"/><circle cx="93.41" cy="418.35" r="1.45"/><circle cx="99.41" cy="418.35" r="1.45"/><circle cx="88.72" cy="419.99" r="1.45"/><circle cx="96.35" cy="419.99" r="1.45"/><circle cx="102.68" cy="419.99" r="1.45"/><circle cx="104.32" cy="419.99" r="1.45"/><circle cx="91.99" cy="421.62" r="1.45"/><circle cx="94.83" cy="421.62" r="1.45"/><circle cx="98.32" cy="421.62" r="1.45"/><circle cx="101.04" cy="421.62" r="1.45"/><circle cx="88.72" cy="423.26" r="1.45"/><circle cx="96.35" cy="423.26" r="1.45"/><circle cx="104.32" cy="423.26" r="1.45"/><circle cx="87.19" cy="424.9" r="1.45"/><circle cx="90.68" cy="424.9" r="1.45"/><circle cx="93.41" cy="424.9" r="1.45"/><circle cx="99.41" cy="424.9" r="1.45"/><circle cx="102.13" cy="424.9" r="1.45"/><circle cx="93.96" cy="427.08" r="1.45"/><circle cx="96.35" cy="427.08" r="1.45"/><circle cx="98.32" cy="427.08" r="1.45"/>
</g>
<g class="lt">
<circle cx="124.69" cy="343.8" r="1.45"/><circle cx="124.69" cy="368.8" r="1.45"/><circle cx="124.69" cy="373.7" r="1.45"/><circle cx="124.69" cy="380" r="1.45"/><circle cx="124.69" cy="386.7" r="1.45"/><circle cx="126.09" cy="389" r="1.45"/><circle cx="123.08" cy="391.64" r="1.45"/><circle cx="128.54" cy="396" r="1.45"/><circle cx="121.45" cy="397.63" r="1.45"/><circle cx="125.27" cy="399.27" r="1.45"/><circle cx="126.68" cy="400.36" r="1.45"/><circle cx="121.67" cy="402.87" r="1.45"/><circle cx="123.41" cy="404.18" r="1.45"/><circle cx="126.36" cy="407.23" r="1.45"/><circle cx="121.67" cy="409.08" r="1.45"/><circle cx="125.27" cy="410.72" r="1.45"/><circle cx="128.54" cy="410.72" r="1.45"/><circle cx="117.09" cy="425.11" r="1.45"/><circle cx="132.57" cy="425.11" r="1.45"/><circle cx="123.08" cy="427.62" r="1.45"/><circle cx="125.27" cy="427.62" r="1.45"/><circle cx="126.9" cy="427.62" r="1.45"/><circle cx="116.29" cy="414.6" r="1.3"/><circle cx="118.69" cy="415.29" r="1.3"/><circle cx="121.09" cy="415.74" r="1.3"/><circle cx="123.49" cy="415.97" r="1.3"/><circle cx="125.89" cy="415.97" r="1.3"/><circle cx="128.29" cy="415.74" r="1.3"/><circle cx="130.69" cy="415.29" r="1.3"/><circle cx="133.09" cy="414.6" r="1.3"/><circle cx="116.09" cy="418" r="1.3"/><circle cx="118.24" cy="419.14" r="1.3"/><circle cx="120.39" cy="419.95" r="1.3"/><circle cx="122.54" cy="420.44" r="1.3"/><circle cx="124.69" cy="420.6" r="1.3"/><circle cx="126.84" cy="420.44" r="1.3"/><circle cx="128.99" cy="419.95" r="1.3"/><circle cx="131.14" cy="419.14" r="1.3"/><circle cx="133.29" cy="418" r="1.3"/><circle cx="117.79" cy="422.2" r="1.3"/><circle cx="120.09" cy="422.87" r="1.3"/><circle cx="122.39" cy="423.27" r="1.3"/><circle cx="124.69" cy="423.4" r="1.3"/><circle cx="126.99" cy="423.27" r="1.3"/><circle cx="129.29" cy="422.87" r="1.3"/><circle cx="131.59" cy="422.2" r="1.3"/>
</g>
<g class="dk">
<circle cx="153.02" cy="387.5" r="1.45"/><circle cx="149.72" cy="395.8" r="1.45"/><circle cx="155.92" cy="397" r="1.45"/><circle cx="153.02" cy="399" r="1.45"/><circle cx="147.77" cy="402" r="1.45"/><circle cx="151.27" cy="402.71" r="1.45"/><circle cx="154.77" cy="402.71" r="1.45"/><circle cx="158.27" cy="402" r="1.45"/><circle cx="153.02" cy="408.7" r="1.45"/><circle cx="145.42" cy="414.2" r="1.25"/><circle cx="147.32" cy="414.42" r="1.25"/><circle cx="149.22" cy="414.57" r="1.25"/><circle cx="151.12" cy="414.67" r="1.25"/><circle cx="153.02" cy="414.7" r="1.25"/><circle cx="154.92" cy="414.67" r="1.25"/><circle cx="156.82" cy="414.57" r="1.25"/><circle cx="158.72" cy="414.42" r="1.25"/><circle cx="160.62" cy="414.2" r="1.25"/><circle cx="161.02" cy="413" r="1.45"/><circle cx="144.92" cy="418.2" r="1.45"/><circle cx="147.62" cy="418.76" r="1.45"/><circle cx="150.32" cy="419.09" r="1.45"/><circle cx="153.02" cy="419.2" r="1.45"/><circle cx="155.72" cy="419.09" r="1.45"/><circle cx="158.42" cy="418.76" r="1.45"/><circle cx="161.12" cy="418.2" r="1.45"/><circle cx="144.92" cy="421" r="1.45"/><circle cx="147.62" cy="421.56" r="1.45"/><circle cx="150.32" cy="421.89" r="1.45"/><circle cx="153.02" cy="422" r="1.45"/><circle cx="155.72" cy="421.89" r="1.45"/><circle cx="158.42" cy="421.56" r="1.45"/><circle cx="161.12" cy="421" r="1.45"/><circle cx="144.92" cy="423.8" r="1.45"/><circle cx="147.62" cy="424.36" r="1.45"/><circle cx="150.32" cy="424.69" r="1.45"/><circle cx="153.02" cy="424.8" r="1.45"/><circle cx="155.72" cy="424.69" r="1.45"/><circle cx="158.42" cy="424.36" r="1.45"/><circle cx="161.12" cy="423.8" r="1.45"/><circle cx="148.02" cy="427.2" r="1.45"/><circle cx="150.52" cy="427.2" r="1.45"/><circle cx="153.02" cy="427.2" r="1.45"/><circle cx="155.52" cy="427.2" r="1.45"/><circle cx="158.02" cy="427.2" r="1.45"/>
</g>
<g class="lt">
<circle cx="181.35" cy="373" r="1.45"/><circle cx="181.35" cy="387.5" r="1.45"/><circle cx="174.65" cy="398.7" r="1.45"/><circle cx="187.65" cy="398.9" r="1.45"/><circle cx="177.95" cy="401.4" r="1.45"/><circle cx="181.35" cy="401.8" r="1.45"/><circle cx="184.75" cy="401.4" r="1.45"/><circle cx="176.55" cy="405.4" r="1.45"/><circle cx="185.75" cy="405.4" r="1.45"/><circle cx="179.65" cy="407.3" r="1.45"/><circle cx="182.85" cy="407.3" r="1.45"/><circle cx="181.35" cy="412" r="1.45"/><circle cx="173.85" cy="414.6" r="1.45"/><circle cx="188.65" cy="414.6" r="1.45"/><circle cx="177.35" cy="415.4" r="1.45"/><circle cx="185.35" cy="415.4" r="1.45"/><circle cx="172.95" cy="417.9" r="1.3"/><circle cx="175.35" cy="418.63" r="1.3"/><circle cx="177.75" cy="419.12" r="1.3"/><circle cx="180.15" cy="419.37" r="1.3"/><circle cx="182.55" cy="419.37" r="1.3"/><circle cx="184.95" cy="419.12" r="1.3"/><circle cx="187.35" cy="418.63" r="1.3"/><circle cx="189.75" cy="417.9" r="1.3"/><circle cx="172.95" cy="420.8" r="1.3"/><circle cx="175.35" cy="421.53" r="1.3"/><circle cx="177.75" cy="422.02" r="1.3"/><circle cx="180.15" cy="422.27" r="1.3"/><circle cx="182.55" cy="422.27" r="1.3"/><circle cx="184.95" cy="422.02" r="1.3"/><circle cx="187.35" cy="421.53" r="1.3"/><circle cx="189.75" cy="420.8" r="1.3"/><circle cx="172.95" cy="423.7" r="1.3"/><circle cx="175.35" cy="424.43" r="1.3"/><circle cx="177.75" cy="424.92" r="1.3"/><circle cx="180.15" cy="425.17" r="1.3"/><circle cx="182.55" cy="425.17" r="1.3"/><circle cx="184.95" cy="424.92" r="1.3"/><circle cx="187.35" cy="424.43" r="1.3"/><circle cx="189.75" cy="423.7" r="1.3"/><circle cx="177.45" cy="427.3" r="1.45"/><circle cx="180.05" cy="427.3" r="1.45"/><circle cx="182.65" cy="427.3" r="1.45"/><circle cx="185.25" cy="427.3" r="1.45"/>
</g>
<g class="dk">
<circle cx="209.7" cy="386.31" r="1.45"/><circle cx="208.07" cy="389.91" r="1.45"/><circle cx="211.56" cy="390.67" r="1.45"/><circle cx="206.43" cy="399.18" r="1.45"/><circle cx="212.97" cy="399.18" r="1.45"/><circle cx="209.7" cy="400.81" r="1.45"/><circle cx="206.43" cy="406.81" r="1.45"/><circle cx="209.7" cy="408.45" r="1.45"/><circle cx="212.97" cy="406.26" r="1.45"/><circle cx="206.43" cy="410.63" r="1.45"/><circle cx="209.7" cy="412.26" r="1.45"/><circle cx="212.97" cy="412.04" r="1.45"/><circle cx="201.74" cy="414.23" r="1.45"/><circle cx="205.01" cy="414.23" r="1.45"/><circle cx="217.88" cy="414.23" r="1.45"/><circle cx="214.61" cy="414.44" r="1.45"/><circle cx="208.07" cy="416.41" r="1.45"/><circle cx="211.34" cy="416.62" r="1.45"/><circle cx="214.61" cy="417.17" r="1.45"/><circle cx="205.01" cy="418.81" r="1.45"/><circle cx="211.34" cy="419.68" r="1.45"/><circle cx="208.07" cy="420.44" r="1.45"/><circle cx="201.74" cy="421.53" r="1.45"/><circle cx="217.88" cy="421.86" r="1.45"/><circle cx="205.01" cy="423.17" r="1.45"/><circle cx="208.07" cy="423.17" r="1.45"/><circle cx="211.34" cy="423.17" r="1.45"/><circle cx="214.61" cy="423.39" r="1.45"/><circle cx="217.88" cy="423.39" r="1.45"/><circle cx="201.74" cy="423.71" r="1.45"/><circle cx="209.7" cy="425.35" r="1.45"/><circle cx="206.43" cy="425.89" r="1.45"/><circle cx="212.97" cy="425.89" r="1.45"/><circle cx="208.07" cy="427.75" r="1.45"/><circle cx="209.7" cy="427.75" r="1.45"/><circle cx="211.34" cy="427.75" r="1.45"/>
</g>
<g class="lt">
<circle cx="238.01" cy="354.4" r="1.45"/><circle cx="238.01" cy="379.4" r="1.45"/><circle cx="238.01" cy="385.2" r="1.45"/><circle cx="239.51" cy="397" r="1.45"/><circle cx="236.11" cy="398.3" r="1.45"/><circle cx="236.11" cy="405.4" r="1.45"/><circle cx="239.51" cy="406.7" r="1.45"/><circle cx="234.51" cy="409.2" r="1.45"/><circle cx="240.91" cy="410.8" r="1.45"/><circle cx="234.21" cy="414" r="1.45"/><circle cx="238.01" cy="414" r="1.45"/><circle cx="229.61" cy="417.8" r="1.3"/><circle cx="232.01" cy="418.53" r="1.3"/><circle cx="234.41" cy="419.02" r="1.3"/><circle cx="236.81" cy="419.27" r="1.3"/><circle cx="239.21" cy="419.27" r="1.3"/><circle cx="241.61" cy="419.02" r="1.3"/><circle cx="244.01" cy="418.53" r="1.3"/><circle cx="246.41" cy="417.8" r="1.3"/><circle cx="229.61" cy="420.7" r="1.3"/><circle cx="232.01" cy="421.43" r="1.3"/><circle cx="234.41" cy="421.92" r="1.3"/><circle cx="236.81" cy="422.17" r="1.3"/><circle cx="239.21" cy="422.17" r="1.3"/><circle cx="241.61" cy="421.92" r="1.3"/><circle cx="244.01" cy="421.43" r="1.3"/><circle cx="246.41" cy="420.7" r="1.3"/><circle cx="229.61" cy="423.6" r="1.3"/><circle cx="232.01" cy="424.33" r="1.3"/><circle cx="234.41" cy="424.82" r="1.3"/><circle cx="236.81" cy="425.07" r="1.3"/><circle cx="239.21" cy="425.07" r="1.3"/><circle cx="241.61" cy="424.82" r="1.3"/><circle cx="244.01" cy="424.33" r="1.3"/><circle cx="246.41" cy="423.6" r="1.3"/><circle cx="233.01" cy="427.3" r="1.45"/><circle cx="235.51" cy="427.3" r="1.45"/><circle cx="238.01" cy="427.3" r="1.45"/><circle cx="240.51" cy="427.3" r="1.45"/><circle cx="243.01" cy="427.3" r="1.45"/>
</g>
<text class="tk" x="22.9" y="429.85">0</text>
<text class="tk" x="22.9" y="379.45">5</text>
<text class="tk" x="22.9" y="329.15">10</text>
<text class="tk" x="22.9" y="278.85">15</text>
<text class="xl" transform="translate(42.5 437) rotate(-45)">chin left</text>
<text class="xl" transform="translate(70.83 437) rotate(-45)">chin right</text>
<text class="xl" transform="translate(99.16 437) rotate(-45)">lower lip left</text>
<text class="xl" transform="translate(127.49 437) rotate(-45)">lower lip right</text>
<text class="xl" transform="translate(155.82 437) rotate(-45)">tongue left</text>
<text class="xl" transform="translate(184.15 437) rotate(-45)">tongue right</text>
<text class="xl" transform="translate(212.48 437) rotate(-45)">gingiva left</text>
<text class="xl" transform="translate(240.81 437) rotate(-45)">gingiva right</text>
</g>
<g>
<text class="ttl" x="424.5" y="263.3">WUR</text>
<text class="yl" transform="translate(295.9 349.8) rotate(-90)">0-100</text>
<rect class="bd" x="314.9" y="420.8" width="20.6" height="6.5"/>
<path class="ed" d="M325.2 420.8V419.6M320.8 419.6H329.6"/>
<rect class="bl" x="343.2" y="421.2" width="20.6" height="6.1"/>
<path class="el" d="M353.5 421.2V420.1M349.1 420.1H357.9"/>
<rect class="bd" x="371.5" y="421" width="20.6" height="6.3"/>
<path class="ed" d="M381.8 421V419.8M377.4 419.8H386.2"/>
<rect class="bl" x="399.8" y="421.2" width="20.6" height="6.1"/>
<path class="el" d="M410.1 421.2V420M405.7 420H414.5"/>
<rect class="bd" x="428.1" y="419.9" width="20.6" height="7.4"/>
<path class="ed" d="M438.4 419.9V418.6M434 418.6H442.8"/>
<rect class="bl" x="456.4" y="420.5" width="20.6" height="6.8"/>
<path class="el" d="M466.7 420.5V419.3M462.3 419.3H471.1"/>
<rect class="bd" x="484.7" y="418.3" width="20.6" height="9"/>
<path class="ed" d="M495 418.3V416.8M490.6 416.8H499.4"/>
<rect class="bl" x="513" y="419" width="20.6" height="8.3"/>
<path class="el" d="M523.3 419V417.4M518.9 417.4H527.7"/>
<path d="M311.2 427.3H537.7" style="stroke:#222;stroke-width:0.6;fill:none;"/>
<path class="ax" d="M311.2 276V427.8M311.2 427.4H309.3M311.2 389.7H309.3M311.2 351.95H309.3M311.2 314.2H309.3M311.2 276.5H309.3M325.2 427.3V429.1M353.5 427.3V429.1M381.8 427.3V429.1M410.1 427.3V429.1M438.4 427.3V429.1M466.7 427.3V429.1M495 427.3V429.1M523.3 427.3V429.1"/>
<g class="dk">
<circle cx="325.2" cy="402.4" r="1.45"/><circle cx="325.2" cy="406.9" r="1.45"/><circle cx="318.5" cy="413.1" r="1.45"/><circle cx="321.85" cy="414.07" r="1.45"/><circle cx="325.2" cy="414.4" r="1.45"/><circle cx="328.55" cy="414.07" r="1.45"/><circle cx="331.9" cy="413.1" r="1.45"/><circle cx="326.7" cy="416.9" r="1.45"/><circle cx="323.4" cy="418.1" r="1.45"/><circle cx="316.8" cy="419" r="1.45"/><circle cx="319.6" cy="420.22" r="1.45"/><circle cx="322.4" cy="420.96" r="1.45"/><circle cx="325.2" cy="421.2" r="1.45"/><circle cx="328" cy="420.96" r="1.45"/><circle cx="330.8" cy="420.22" r="1.45"/><circle cx="333.6" cy="419" r="1.45"/><circle cx="315.85" cy="422.2" r="1.25"/><circle cx="317.55" cy="422.99" r="1.25"/><circle cx="319.25" cy="423.63" r="1.25"/><circle cx="320.95" cy="424.1" r="1.25"/><circle cx="322.65" cy="424.42" r="1.25"/><circle cx="324.35" cy="424.58" r="1.25"/><circle cx="326.05" cy="424.58" r="1.25"/><circle cx="327.75" cy="424.42" r="1.25"/><circle cx="329.45" cy="424.1" r="1.25"/><circle cx="331.15" cy="423.63" r="1.25"/><circle cx="332.85" cy="422.99" r="1.25"/><circle cx="334.55" cy="422.2" r="1.25"/><circle cx="319.25" cy="425.5" r="1.25"/><circle cx="320.95" cy="425.99" r="1.25"/><circle cx="322.65" cy="426.32" r="1.25"/><circle cx="324.35" cy="426.48" r="1.25"/><circle cx="326.05" cy="426.48" r="1.25"/><circle cx="327.75" cy="426.32" r="1.25"/><circle cx="329.45" cy="425.99" r="1.25"/><circle cx="331.15" cy="425.5" r="1.25"/>
</g>
<g class="lt">
<circle cx="353.5" cy="408.9" r="1.45"/><circle cx="347" cy="414" r="1.45"/><circle cx="351.7" cy="414" r="1.45"/><circle cx="360" cy="414" r="1.45"/><circle cx="357" cy="415.1" r="1.45"/><circle cx="348.8" cy="417.2" r="1.45"/><circle cx="355.3" cy="417.2" r="1.45"/><circle cx="345.2" cy="418.7" r="1.45"/><circle cx="352.3" cy="418.9" r="1.45"/><circle cx="361.2" cy="418.7" r="1.45"/><circle cx="344.5" cy="419.6" r="1.25"/><circle cx="346.5" cy="420.39" r="1.25"/><circle cx="348.5" cy="420.98" r="1.25"/><circle cx="350.5" cy="421.38" r="1.25"/><circle cx="352.5" cy="421.58" r="1.25"/><circle cx="354.5" cy="421.58" r="1.25"/><circle cx="356.5" cy="421.38" r="1.25"/><circle cx="358.5" cy="420.98" r="1.25"/><circle cx="360.5" cy="420.39" r="1.25"/><circle cx="362.5" cy="419.6" r="1.25"/><circle cx="344.15" cy="422.1" r="1.25"/><circle cx="345.85" cy="422.89" r="1.25"/><circle cx="347.55" cy="423.53" r="1.25"/><circle cx="349.25" cy="424" r="1.25"/><circle cx="350.95" cy="424.32" r="1.25"/><circle cx="352.65" cy="424.48" r="1.25"/><circle cx="354.35" cy="424.48" r="1.25"/><circle cx="356.05" cy="424.32" r="1.25"/><circle cx="357.75" cy="424" r="1.25"/><circle cx="359.45" cy="423.53" r="1.25"/><circle cx="361.15" cy="422.89" r="1.25"/><circle cx="362.85" cy="422.1" r="1.25"/><circle cx="347.55" cy="425.5" r="1.25"/><circle cx="349.25" cy="425.99" r="1.25"/><circle cx="350.95" cy="426.32" r="1.25"/><circle cx="352.65" cy="426.48" r="1.25"/><circle cx="354.35" cy="426.48" r="1.25"/><circle cx="356.05" cy="426.32" r="1.25"/><circle cx="357.75" cy="425.99" r="1.25"/><circle cx="359.45" cy="425.5" r="1.25"/>
</g>
<g class="dk">
<circle cx="383.8" cy="403.3" r="1.45"/><circle cx="380.3" cy="405.7" r="1.45"/><circle cx="385.3" cy="410.2" r="1.45"/><circle cx="378.5" cy="412" r="1.45"/><circle cx="382.2" cy="413.4" r="1.45"/><circle cx="382.2" cy="416.7" r="1.45"/><circle cx="380.3" cy="419.3" r="1.45"/><circle cx="373" cy="420.4" r="1.25"/><circle cx="374.6" cy="420.8" r="1.25"/><circle cx="376.2" cy="421.11" r="1.25"/><circle cx="377.8" cy="421.35" r="1.25"/><circle cx="379.4" cy="421.51" r="1.25"/><circle cx="381" cy="421.59" r="1.25"/><circle cx="382.6" cy="421.59" r="1.25"/><circle cx="384.2" cy="421.51" r="1.25"/><circle cx="385.8" cy="421.35" r="1.25"/><circle cx="387.4" cy="421.11" r="1.25"/><circle cx="389" cy="420.8" r="1.25"/><circle cx="390.6" cy="420.4" r="1.25"/><circle cx="373" cy="422.4" r="1.25"/><circle cx="374.6" cy="423" r="1.25"/><circle cx="376.2" cy="423.47" r="1.25"/><circle cx="377.8" cy="423.83" r="1.25"/><circle cx="379.4" cy="424.07" r="1.25"/><circle cx="381" cy="424.19" r="1.25"/><circle cx="382.6" cy="424.19" r="1.25"/><circle cx="384.2" cy="424.07" r="1.25"/><circle cx="385.8" cy="423.83" r="1.25"/><circle cx="387.4" cy="423.47" r="1.25"/><circle cx="389" cy="423" r="1.25"/><circle cx="390.6" cy="422.4" r="1.25"/><circle cx="376.7" cy="425.9" r="1.25"/><circle cx="378.4" cy="426.18" r="1.25"/><circle cx="380.1" cy="426.34" r="1.25"/><circle cx="381.8" cy="426.4" r="1.25"/><circle cx="383.5" cy="426.34" r="1.25"/><circle cx="385.2" cy="426.18" r="1.25"/><circle cx="386.9" cy="425.9" r="1.25"/>
</g>
<g class="lt">
<circle cx="410.1" cy="398" r="1.45"/><circle cx="410.1" cy="405.1" r="1.45"/><circle cx="408.6" cy="409.5" r="1.45"/><circle cx="411.9" cy="410.2" r="1.45"/><circle cx="413.6" cy="417.5" r="1.45"/><circle cx="407.1" cy="418.7" r="1.45"/><circle cx="408.9" cy="418.9" r="1.45"/><circle cx="411.9" cy="419.5" r="1.45"/><circle cx="401.6" cy="420" r="1.25"/><circle cx="403.3" cy="420.58" r="1.25"/><circle cx="405" cy="421.02" r="1.25"/><circle cx="406.7" cy="421.34" r="1.25"/><circle cx="408.4" cy="421.54" r="1.25"/><circle cx="410.1" cy="421.6" r="1.25"/><circle cx="411.8" cy="421.54" r="1.25"/><circle cx="413.5" cy="421.34" r="1.25"/><circle cx="415.2" cy="421.02" r="1.25"/><circle cx="416.9" cy="420.58" r="1.25"/><circle cx="418.6" cy="420" r="1.25"/><circle cx="401.3" cy="422.4" r="1.25"/><circle cx="402.9" cy="423.06" r="1.25"/><circle cx="404.5" cy="423.59" r="1.25"/><circle cx="406.1" cy="423.99" r="1.25"/><circle cx="407.7" cy="424.25" r="1.25"/><circle cx="409.3" cy="424.38" r="1.25"/><circle cx="410.9" cy="424.38" r="1.25"/><circle cx="412.5" cy="424.25" r="1.25"/><circle cx="414.1" cy="423.99" r="1.25"/><circle cx="415.7" cy="423.59" r="1.25"/><circle cx="417.3" cy="423.06" r="1.25"/><circle cx="418.9" cy="422.4" r="1.25"/><circle cx="405" cy="426" r="1.25"/><circle cx="406.7" cy="426.28" r="1.25"/><circle cx="408.4" cy="426.44" r="1.25"/><circle cx="410.1" cy="426.5" r="1.25"/><circle cx="411.8" cy="426.44" r="1.25"/><circle cx="413.5" cy="426.28" r="1.25"/><circle cx="415.2" cy="426" r="1.25"/>
</g>
<g class="dk">
<circle cx="438.4" cy="393.3" r="1.45"/><circle cx="438.4" cy="406.3" r="1.45"/><circle cx="434.9" cy="409" r="1.45"/><circle cx="441.6" cy="409" r="1.45"/><circle cx="438.4" cy="410.2" r="1.45"/><circle cx="438.4" cy="414.3" r="1.45"/><circle cx="431.3" cy="416" r="1.45"/><circle cx="432.15" cy="417.7" r="1.45"/><circle cx="434.65" cy="418.08" r="1.45"/><circle cx="437.15" cy="418.28" r="1.45"/><circle cx="439.65" cy="418.28" r="1.45"/><circle cx="442.15" cy="418.08" r="1.45"/><circle cx="444.65" cy="417.7" r="1.45"/><circle cx="429.4" cy="419.7" r="1.25"/><circle cx="431.2" cy="420.13" r="1.25"/><circle cx="433" cy="420.47" r="1.25"/><circle cx="434.8" cy="420.71" r="1.25"/><circle cx="436.6" cy="420.85" r="1.25"/><circle cx="438.4" cy="420.9" r="1.25"/><circle cx="440.2" cy="420.85" r="1.25"/><circle cx="442" cy="420.71" r="1.25"/><circle cx="443.8" cy="420.47" r="1.25"/><circle cx="445.6" cy="420.13" r="1.25"/><circle cx="447.4" cy="419.7" r="1.25"/><circle cx="429.05" cy="422" r="1.25"/><circle cx="430.75" cy="422.6" r="1.25"/><circle cx="432.45" cy="423.07" r="1.25"/><circle cx="434.15" cy="423.43" r="1.25"/><circle cx="435.85" cy="423.67" r="1.25"/><circle cx="437.55" cy="423.79" r="1.25"/><circle cx="439.25" cy="423.79" r="1.25"/><circle cx="440.95" cy="423.67" r="1.25"/><circle cx="442.65" cy="423.43" r="1.25"/><circle cx="444.35" cy="423.07" r="1.25"/><circle cx="446.05" cy="422.6" r="1.25"/><circle cx="447.75" cy="422" r="1.25"/><circle cx="432.45" cy="425.5" r="1.25"/><circle cx="434.15" cy="425.84" r="1.25"/><circle cx="435.85" cy="426.07" r="1.25"/><circle cx="437.55" cy="426.19" r="1.25"/><circle cx="439.25" cy="426.19" r="1.25"/><circle cx="440.95" cy="426.07" r="1.25"/><circle cx="442.65" cy="425.84" r="1.25"/><circle cx="444.35" cy="425.5" r="1.25"/>
</g>
<g class="lt">
<circle cx="466.7" cy="399" r="1.45"/><circle cx="463.4" cy="409.8" r="1.45"/><circle cx="468.5" cy="409.8" r="1.45"/><circle cx="461.7" cy="410.9" r="1.45"/><circle cx="471.7" cy="410.9" r="1.45"/><circle cx="465.2" cy="413.1" r="1.45"/><circle cx="468.5" cy="414.2" r="1.45"/><circle cx="471.7" cy="416.3" r="1.45"/><circle cx="463.6" cy="417.8" r="1.45"/><circle cx="466.7" cy="418.1" r="1.45"/><circle cx="469.8" cy="417.8" r="1.45"/><circle cx="461.9" cy="418" r="1.45"/><circle cx="474.7" cy="419.3" r="1.45"/><circle cx="457.7" cy="419.6" r="1.25"/><circle cx="459.5" cy="420.18" r="1.25"/><circle cx="461.3" cy="420.62" r="1.25"/><circle cx="463.1" cy="420.94" r="1.25"/><circle cx="464.9" cy="421.14" r="1.25"/><circle cx="466.7" cy="421.2" r="1.25"/><circle cx="468.5" cy="421.14" r="1.25"/><circle cx="470.3" cy="420.94" r="1.25"/><circle cx="472.1" cy="420.62" r="1.25"/><circle cx="473.9" cy="420.18" r="1.25"/><circle cx="475.7" cy="419.6" r="1.25"/><circle cx="457.35" cy="422" r="1.25"/><circle cx="459.05" cy="422.66" r="1.25"/><circle cx="460.75" cy="423.19" r="1.25"/><circle cx="462.45" cy="423.59" r="1.25"/><circle cx="464.15" cy="423.85" r="1.25"/><circle cx="465.85" cy="423.98" r="1.25"/><circle cx="467.55" cy="423.98" r="1.25"/><circle cx="469.25" cy="423.85" r="1.25"/><circle cx="470.95" cy="423.59" r="1.25"/><circle cx="472.65" cy="423.19" r="1.25"/><circle cx="474.35" cy="422.66" r="1.25"/><circle cx="476.05" cy="422" r="1.25"/><circle cx="460.75" cy="425.6" r="1.25"/><circle cx="462.45" cy="425.94" r="1.25"/><circle cx="464.15" cy="426.17" r="1.25"/><circle cx="465.85" cy="426.29" r="1.25"/><circle cx="467.55" cy="426.29" r="1.25"/><circle cx="469.25" cy="426.17" r="1.25"/><circle cx="470.95" cy="425.94" r="1.25"/><circle cx="472.65" cy="425.6" r="1.25"/>
</g>
<g class="dk">
<circle cx="495" cy="380.3" r="1.45"/><circle cx="495" cy="390" r="1.45"/><circle cx="495" cy="397.6" r="1.45"/><circle cx="495" cy="408.1" r="1.45"/><circle cx="498.4" cy="412.5" r="1.45"/><circle cx="487.4" cy="415" r="1.45"/><circle cx="491.2" cy="415.98" r="1.45"/><circle cx="495" cy="416.3" r="1.45"/><circle cx="498.8" cy="415.98" r="1.45"/><circle cx="502.6" cy="415" r="1.45"/><circle cx="485.5" cy="417.8" r="1.25"/><circle cx="487.4" cy="418.66" r="1.25"/><circle cx="489.3" cy="419.34" r="1.25"/><circle cx="491.2" cy="419.82" r="1.25"/><circle cx="493.1" cy="420.1" r="1.25"/><circle cx="495" cy="420.2" r="1.25"/><circle cx="496.9" cy="420.1" r="1.25"/><circle cx="498.8" cy="419.82" r="1.25"/><circle cx="500.7" cy="419.34" r="1.25"/><circle cx="502.6" cy="418.66" r="1.25"/><circle cx="504.5" cy="417.8" r="1.25"/><circle cx="485.65" cy="420.6" r="1.25"/><circle cx="487.35" cy="421.39" r="1.25"/><circle cx="489.05" cy="422.03" r="1.25"/><circle cx="490.75" cy="422.5" r="1.25"/><circle cx="492.45" cy="422.82" r="1.25"/><circle cx="494.15" cy="422.98" r="1.25"/><circle cx="495.85" cy="422.98" r="1.25"/><circle cx="497.55" cy="422.82" r="1.25"/><circle cx="499.25" cy="422.5" r="1.25"/><circle cx="500.95" cy="422.03" r="1.25"/><circle cx="502.65" cy="421.39" r="1.25"/><circle cx="504.35" cy="420.6" r="1.25"/><circle cx="485.65" cy="423.6" r="1.25"/><circle cx="487.35" cy="424.26" r="1.25"/><circle cx="489.05" cy="424.79" r="1.25"/><circle cx="490.75" cy="425.19" r="1.25"/><circle cx="492.45" cy="425.45" r="1.25"/><circle cx="494.15" cy="425.58" r="1.25"/><circle cx="495.85" cy="425.58" r="1.25"/><circle cx="497.55" cy="425.45" r="1.25"/><circle cx="499.25" cy="425.19" r="1.25"/><circle cx="500.95" cy="424.79" r="1.25"/><circle cx="502.65" cy="424.26" r="1.25"/><circle cx="504.35" cy="423.6" r="1.25"/><circle cx="490.75" cy="426.7" r="1.25"/><circle cx="492.45" cy="426.89" r="1.25"/><circle cx="494.15" cy="426.99" r="1.25"/><circle cx="495.85" cy="426.99" r="1.25"/><circle cx="497.55" cy="426.89" r="1.25"/><circle cx="499.25" cy="426.7" r="1.25"/>
</g>
<g class="lt">
<circle cx="523.3" cy="291.2" r="1.45"/><circle cx="516.9" cy="408.3" r="1.45"/><circle cx="525.2" cy="408.3" r="1.45"/><circle cx="528.4" cy="408.3" r="1.45"/><circle cx="519.5" cy="410.6" r="1.45"/><circle cx="521.4" cy="411.9" r="1.45"/><circle cx="523.3" cy="413.2" r="1.45"/><circle cx="525.2" cy="414.4" r="1.45"/><circle cx="515.3" cy="415.8" r="1.25"/><circle cx="517.3" cy="416.68" r="1.25"/><circle cx="519.3" cy="417.3" r="1.25"/><circle cx="521.3" cy="417.68" r="1.25"/><circle cx="523.3" cy="417.8" r="1.25"/><circle cx="525.3" cy="417.68" r="1.25"/><circle cx="527.3" cy="417.3" r="1.25"/><circle cx="529.3" cy="416.68" r="1.25"/><circle cx="531.3" cy="415.8" r="1.25"/><circle cx="514.3" cy="418.4" r="1.25"/><circle cx="516.1" cy="419.19" r="1.25"/><circle cx="517.9" cy="419.81" r="1.25"/><circle cx="519.7" cy="420.25" r="1.25"/><circle cx="521.5" cy="420.51" r="1.25"/><circle cx="523.3" cy="420.6" r="1.25"/><circle cx="525.1" cy="420.51" r="1.25"/><circle cx="526.9" cy="420.25" r="1.25"/><circle cx="528.7" cy="419.81" r="1.25"/><circle cx="530.5" cy="419.19" r="1.25"/><circle cx="532.3" cy="418.4" r="1.25"/><circle cx="513.95" cy="421.3" r="1.25"/><circle cx="515.65" cy="422.03" r="1.25"/><circle cx="517.35" cy="422.61" r="1.25"/><circle cx="519.05" cy="423.05" r="1.25"/><circle cx="520.75" cy="423.34" r="1.25"/><circle cx="522.45" cy="423.48" r="1.25"/><circle cx="524.15" cy="423.48" r="1.25"/><circle cx="525.85" cy="423.34" r="1.25"/><circle cx="527.55" cy="423.05" r="1.25"/><circle cx="529.25" cy="422.61" r="1.25"/><circle cx="530.95" cy="422.03" r="1.25"/><circle cx="532.65" cy="421.3" r="1.25"/><circle cx="515.65" cy="425" r="1.25"/><circle cx="517.35" cy="425.4" r="1.25"/><circle cx="519.05" cy="425.69" r="1.25"/><circle cx="520.75" cy="425.89" r="1.25"/><circle cx="522.45" cy="425.99" r="1.25"/><circle cx="524.15" cy="425.99" r="1.25"/><circle cx="525.85" cy="425.89" r="1.25"/><circle cx="527.55" cy="425.69" r="1.25"/><circle cx="529.25" cy="425.4" r="1.25"/><circle cx="530.95" cy="425" r="1.25"/>
</g>
<text class="tk" x="308.5" y="429.85">0</text>
<text class="tk" x="308.5" y="392.15">20</text>
<text class="tk" x="308.5" y="354.4">40</text>
<text class="tk" x="308.5" y="316.65">60</text>
<text class="tk" x="308.5" y="278.95">80</text>
<text class="xl" transform="translate(328 436.9) rotate(-45)">chin left</text>
<text class="xl" transform="translate(356.3 436.9) rotate(-45)">chin right</text>
<text class="xl" transform="translate(384.6 436.9) rotate(-45)">lower lip left</text>
<text class="xl" transform="translate(412.9 436.9) rotate(-45)">lower lip right</text>
<text class="xl" transform="translate(441.2 436.9) rotate(-45)">tongue left</text>
<text class="xl" transform="translate(469.5 436.9) rotate(-45)">tongue right</text>
<text class="xl" transform="translate(497.8 436.9) rotate(-45)">gingiva left</text>
<text class="xl" transform="translate(526.1 436.9) rotate(-45)">gingiva right</text>
</g>
</svg>
</body></html>
